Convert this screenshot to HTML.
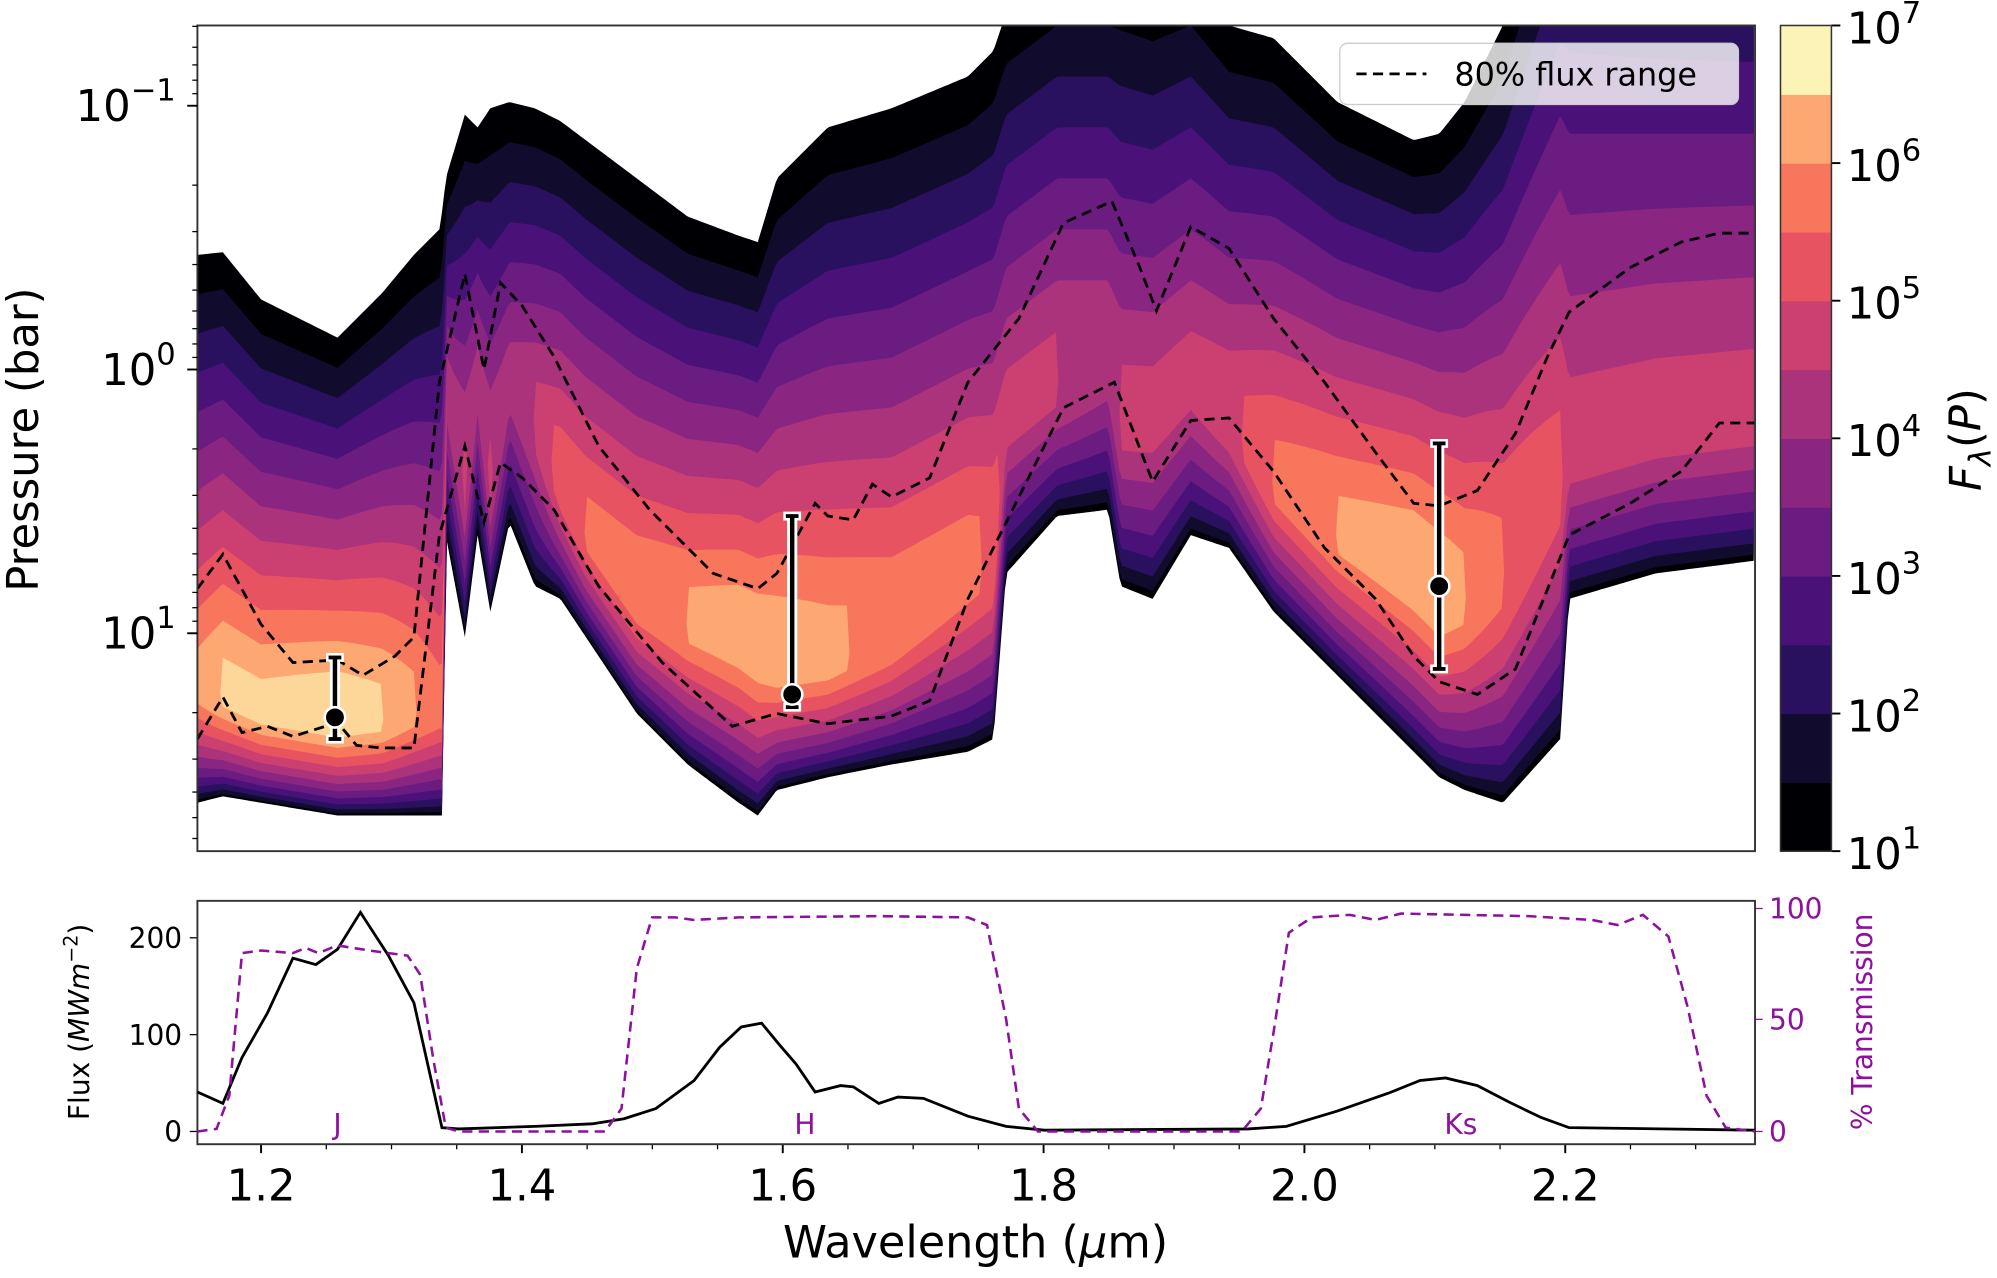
<!DOCTYPE html>
<html><head><meta charset="utf-8"><style>
html,body{margin:0;padding:0;background:#fff;}
svg{display:block;font-family:"DejaVu Sans","Liberation Sans",sans-serif;}
</style></head><body>
<svg id="s" width="1997" height="1278" viewBox="0 0 1568 1003" preserveAspectRatio="none" xmlns="http://www.w3.org/2000/svg">
<defs><clipPath id="c"><rect x="155" y="20" width="1223" height="648"/></clipPath></defs>
<g id="cont" clip-path="url(#c)"></g>
<g clip-path="url(#c)" fill="none" stroke="#000" stroke-width="2.2" stroke-dasharray="8,5">
<polyline points="155,462 175,435 205,490 230,520 265,518 285,530 310,515 325,500 345,300 365,215 380,290 393,222 410,240 435,280 470,350 510,400 560,450 595,462 610,450 640,395 650,405 670,408 685,380 700,390 730,375 760,300 800,250 835,175 873,158 895,210 908,244 935,178 965,195 1000,250 1040,300 1080,355 1110,395 1130,397 1160,385 1190,340 1215,280 1232,245 1280,210 1320,190 1350,183 1378,183"/>
<polyline points="155,580 175,547 190,575 210,570 230,578 265,567 280,585 300,587 325,587 345,420 365,350 380,410 393,363 410,375 435,400 470,460 520,520 575,570 610,560 650,568 700,562 730,550 760,470 800,390 835,320 875,300 905,378 935,330 965,328 1000,370 1040,430 1080,470 1110,515 1130,535 1160,545 1190,525 1232,420 1280,395 1320,370 1350,332 1378,332"/>
</g>
<g id="eb"></g>
<rect x="155" y="20" width="1223" height="648" fill="none" stroke="#333" stroke-width="1.5"/>
<rect x="1052" y="34" width="313" height="48" rx="6" fill="#fff" fill-opacity="0.8" stroke="#ccc"/>
<line x1="1065" y1="58" x2="1120" y2="58" stroke="#000" stroke-width="2.2" stroke-dasharray="8,5"/>
<text x="1142" y="67" font-size="25">80% flux range</text>
<g id="yt"></g>
<text transform="translate(30,345) rotate(-90)" text-anchor="middle" font-size="34">Pressure (bar)</text>
<g id="cb"></g>
<rect x="1398" y="20" width="40" height="648" fill="none" stroke="#333" stroke-width="1.2"/>
<text transform="translate(1555,345) rotate(-90)" text-anchor="middle" font-size="34" font-style="italic">F<tspan font-size="24" dy="8">λ</tspan><tspan dy="-8" font-style="normal">(</tspan>P<tspan font-style="normal">)</tspan></text>
<g id="bp"></g>
<rect x="155" y="707" width="1223" height="191" fill="none" stroke="#333" stroke-width="1.5"/>
<polyline fill="none" stroke="#000" stroke-width="2.2" points="155,857 175,866 190,830 210,795 230,752 248,757 265,745 283,716 305,750 325,787 347,885 360,886 420,884 465,882 490,878 515,870 545,848 565,822 582,806 598,803 612,820 625,835 640,857 660,852 670,853 690,866 705,861 725,862 760,876 790,884 820,887 980,886 1010,884 1050,872 1090,858 1115,848 1135,846 1160,852 1185,865 1210,877 1232,885 1378,887"/>
<polyline fill="none" stroke="#8e0fa0" stroke-width="2" stroke-dasharray="8,5" points="155,888 170,886 180,860 190,748 205,746 230,748 240,744 250,748 265,742 290,746 320,750 330,765 340,830 350,885 360,888 475,888 488,870 500,760 512,720 530,720 545,722 580,720 690,719 760,720 775,726 790,800 800,870 815,888 975,888 990,870 1000,810 1012,732 1030,720 1060,718 1080,722 1100,717 1200,719 1250,722 1270,726 1290,718 1310,735 1325,790 1340,860 1355,885 1378,888"/>
<g fill="#8e0fa0" font-size="22" text-anchor="middle"><text x="265" y="890">J</text><text x="632" y="890">H</text><text x="1147" y="890">Ks</text></g>
<text transform="translate(70,802) rotate(-90)" text-anchor="middle" font-size="22">Flux (<tspan font-style="italic">MWm</tspan><tspan font-size="15" dy="-9">−2</tspan><tspan dy="9">)</tspan></text>
<text transform="translate(1470,802) rotate(-90)" text-anchor="middle" font-size="22" fill="#8e0fa0">% Transmission</text>
<text x="766" y="987" text-anchor="middle" font-size="35">Wavelength (<tspan font-style="italic">μ</tspan>m)</text>
</svg>
<script>
const NS="http://www.w3.org/2000/svg";
function el(p,t,a,txt){const e=document.createElementNS(NS,t);for(const k in a)e.setAttribute(k,a[k]);if(txt!==undefined)e.textContent=txt;document.getElementById(p).appendChild(e);return e;}
const cols=["#000004","#110b2e","#2a1160","#4a1279","#6a1c81","#8a2681","#ab337c","#cc3f71","#e85362","#f8765c","#fda873","#fdd699"];
const topc="#fcf4b6";
const S=[[155,200,630,540,10],[175,198,625,545,11],[205,235,630,560,11],[265,265,640,565,11.6],[300,230,640,565,11],[325,200,640,560,10],[345,180,640,560,9],[348,160,640,560,9],
[350,140,420,300,6],[365,90,500,380,7],[375,100,420,300,6],[385,85,480,380,7],[400,80,410,300,6],[420,85,460,330,7],[440,95,470,380,8.5],[460,110,500,420,9],[500,140,560,470,9.6],[540,170,600,490,10],[580,185,630,500,10.5],[595,190,640,510,10.6],[610,140,620,520,10.6],[650,100,610,520,10.2],[700,85,600,500,9.6],[760,60,590,450,9.2],[780,40,580,440,8.8],
[790,10,450,330,7],[830,-20,405,300,7],[870,-20,400,280,6.5],[880,-20,460,330,7],[905,-10,470,330,7],[935,-20,420,300,7],[965,20,430,330,7.5],[1000,30,480,380,9],[1050,80,530,420,10],[1110,110,590,450,10.7],[1130,105,610,470,10.7],[1150,80,620,470,10],[1180,20,630,450,9],[1225,-140,580,380,8],[1232,-150,470,360,7],[1300,-130,450,340,7],[1378,-120,440,330,7]];
function at(x){for(let i=0;i<S.length-1;i++){const a=S[i],b=S[i+1];if(x>=a[0]&&x<=b[0]){const t=(x-a[0])/(b[0]-a[0]||1);return a.map((v,j)=>v+(b[j]-v)*t);}}return S[S.length-1];}
const xs=[];for(let x=155;x<=1378;x+=2)xs.push(x);
const D=xs.map(at);
for(let k=0;k<12;k++){
 let top=[],bot=[];
 D.forEach(d=>{const [x,T,B,C,L]=d;let t,b;
  if(k>L){t=C;b=C;}else{const f=k/(L+1);t=T+(C-T)*f;b=B-(B-C)*Math.pow(f,1.5);}
  top.push(x+","+t.toFixed(1));bot.push(x+","+b.toFixed(1));});
 el("cont","polygon",{points:top.concat(bot.reverse()).join(" "),fill:cols[k]});
}
[[263,516,580,563],[622,405,555,545],[1130,348,525,460]].forEach(([x,a,b,c])=>{
 el("eb","line",{x1:x,y1:a,x2:x,y2:b,stroke:"#fff","stroke-width":8});
 el("eb","line",{x1:x-7,y1:a,x2:x+7,y2:a,stroke:"#fff","stroke-width":7});
 el("eb","line",{x1:x-7,y1:b,x2:x+7,y2:b,stroke:"#fff","stroke-width":7});
 el("eb","line",{x1:x,y1:a,x2:x,y2:b,stroke:"#000","stroke-width":3.5});
 el("eb","line",{x1:x-5,y1:a,x2:x+5,y2:a,stroke:"#000","stroke-width":3});
 el("eb","line",{x1:x-5,y1:b,x2:x+5,y2:b,stroke:"#000","stroke-width":3});
 el("eb","circle",{cx:x,cy:c,r:8,fill:"#000",stroke:"#fff","stroke-width":2});
});
const y0=290,dec=207;
[[-1,"10","−1"],[0,"10","0"],[1,"10","1"]].forEach(([e,b,s])=>{const y=y0+e*dec;
 el("yt","line",{x1:147,y1:y,x2:155,y2:y,stroke:"#000","stroke-width":1.5});
 const t=el("yt","text",{x:138,y:y+12,"text-anchor":"end","font-size":34});t.innerHTML=b+'<tspan font-size="24" dy="-16">'+s+'</tspan>';});
for(let e=-2;e<=1;e++)for(let m=2;m<10;m++){const y=y0+(e+Math.log10(m))*dec;if(y>20&&y<668)el("yt","line",{x1:151,y1:y,x2:155,y2:y,stroke:"#000","stroke-width":1});}
const cbH=648/12;
for(let i=0;i<12;i++)el("cb","rect",{x:1398,y:668-(i+1)*cbH,width:40,height:cbH+0.5,fill:i==11?topc:cols[i]});
for(let e=1;e<=7;e++){const y=668-(e-1)*108;el("cb","line",{x1:1438,y1:y,x2:1445,y2:y,stroke:"#000","stroke-width":1.5});
 const t=el("cb","text",{x:1450,y:y+14,"font-size":34});t.innerHTML='10<tspan font-size="24" dy="-16">'+e+'</tspan>';}
[[0,888],[100,812],[200,736]].forEach(([v,y])=>{el("bp","line",{x1:149,y1:y,x2:155,y2:y,stroke:"#000"});el("bp","text",{x:143,y:y+8,"text-anchor":"end","font-size":22},v);});
[[0,888],[50,800],[100,713]].forEach(([v,y])=>{el("bp","line",{x1:1378,y1:y,x2:1384,y2:y,stroke:"#8e0fa0"});el("bp","text",{x:1389,y:y+8,"font-size":22,fill:"#8e0fa0"},v);});
[1.2,1.4,1.6,1.8,2.0,2.2].forEach(v=>{const x=205+(v-1.2)*1024;el("bp","line",{x1:x,y1:898,x2:x,y2:905,stroke:"#000","stroke-width":1.5});el("bp","text",{x:x,y:942,"text-anchor":"middle","font-size":34},v.toFixed(1));});
for(let v=1.15;v<2.36;v+=0.05){const x=205+(v-1.2)*1024;if(x>=155&&x<=1378)el("bp","line",{x1:x,y1:898,x2:x,y2:902,stroke:"#000"});}
</script>
</body></html>
